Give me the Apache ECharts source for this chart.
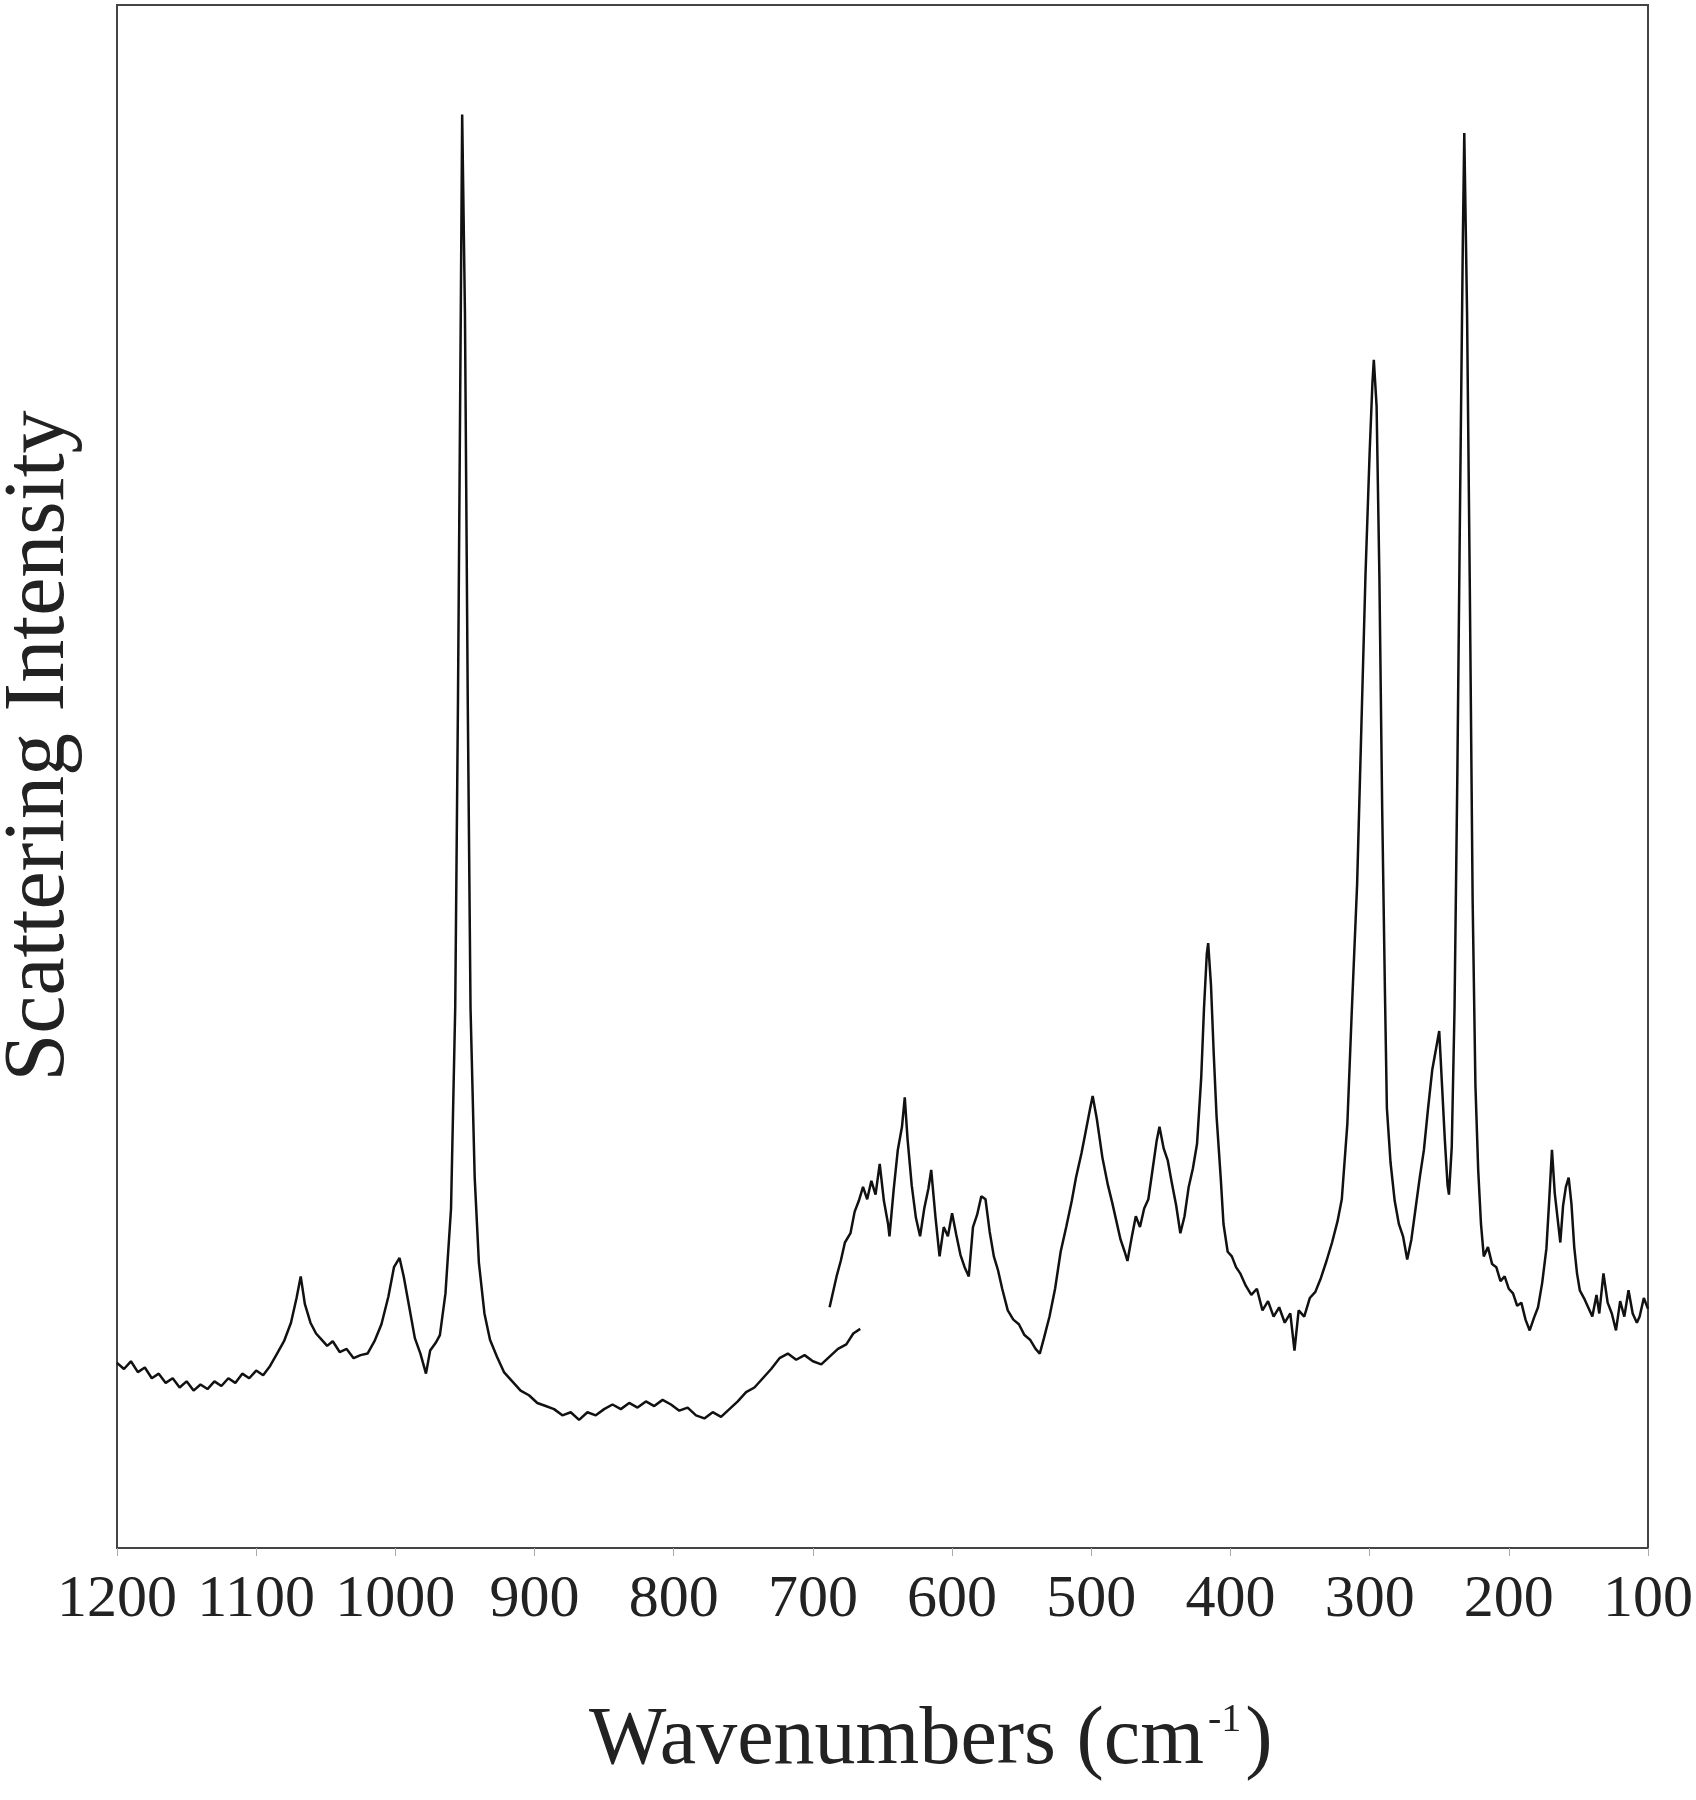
<!DOCTYPE html>
<html>
<head>
<meta charset="utf-8">
<script src="https://cdn.jsdelivr.net/npm/echarts@6/dist/echarts.min.js"></script>
<style>html,body{margin:0;padding:0;background:#fff;}#chart{width:1696px;height:1800px;}</style>
</head>
<body>
<div id="chart"></div>
<script>
// Segment 1 (high wavenumber scan)
const wn1 = [1200,1195,1190,1185,1180,1175,1170,1165,1160,1155,1150,1145,1140,1135,1130,1125,1120,1115,1110,1105,1100,1095,1090,1085,1080,1075,1071,1068,1065,1061,1057,1053,1049,1045,1040,1035,1030,1025,1020,1015,1010,1005,1001,997,994,990,986,982,978,975,971,968,964,960,957,955,953,952,950,948,946,943,940,936,932,927,922,916,910,904,898,892,886,880,874,868,862,856,850,844,838,832,826,820,814,808,802,796,790,784,778,772,766,760,754,748,742,736,730,724,718,712,706,700,694,688,682,676,671,666];
const int1 = [12.0,11.6,12.1,11.4,11.7,11.0,11.3,10.7,11.0,10.4,10.8,10.2,10.6,10.3,10.8,10.5,11.0,10.7,11.3,11.0,11.5,11.2,11.8,12.6,13.4,14.6,16.2,17.6,15.8,14.6,13.9,13.5,13.1,13.4,12.7,12.9,12.3,12.5,12.6,13.4,14.5,16.3,18.2,18.8,17.6,15.6,13.6,12.6,11.3,12.8,13.3,13.8,16.5,22,35,55,80,92.9,80,55,35,24,18.5,15.2,13.5,12.4,11.4,10.8,10.2,9.9,9.4,9.2,9.0,8.6,8.8,8.3,8.8,8.6,9.0,9.3,9.0,9.4,9.1,9.5,9.2,9.6,9.3,8.9,9.1,8.6,8.4,8.8,8.5,9.0,9.5,10.1,10.4,11.0,11.6,12.3,12.6,12.2,12.5,12.1,11.9,12.4,12.9,13.2,13.9,14.2];
// Segment 2 (low wavenumber scan)
const wn2 = [688,685,683,680,677,673,670,667,664,661,658,655,652,649,646,645,642,639,636,634,632,629,626,623,620,617,615,612,609,606,603,600,597,594,591,588,585,582,579,576,573,570,567,564,560,556,552,548,544,540,537,534,530,526,522,518,514,511,507,504,501,499,496,492,488,485,482,479,476,474,471,468,465,462,459,456,453,451,448,445,442,439,436,433,430,427,424,421,419,417,416,414,412,410,407,405,402,399,396,393,389,385,381,377,373,369,365,361,357,354,351,347,343,339,335,331,327,323,320,316,313,309,306,303,300,298,297,295,293,291,289,287.6,285,282,279,276,273,270,267,264,261,258,255,252,250,248,246,244,243,241,239,237,235,233,232,230,228,226,224,222,220,218,215,212,209,206,203,200,197,194,191,188,185,182,179,176,173,171,169,167,165,163,161,159,157,155,153,151,149,146,143,140,137,135,132,129,126,123,120,117,114,111,108,106,103,100];
const int2 = [15.6,16.8,17.6,18.6,19.8,20.4,21.8,22.5,23.4,22.6,23.8,22.9,24.9,22.5,21.0,20.2,23.2,25.8,27.3,29.2,26.5,23.5,21.4,20.2,22.0,23.3,24.5,21.5,18.9,20.8,20.2,21.7,20.3,19.0,18.2,17.6,20.8,21.6,22.8,22.6,20.5,18.9,18.0,16.8,15.4,14.8,14.5,13.8,13.5,12.9,12.6,13.6,15.0,16.8,19.2,20.8,22.5,24.0,25.6,27.0,28.4,29.3,27.8,25.3,23.5,22.4,21.2,20.0,19.2,18.6,20.1,21.5,20.8,22.0,22.6,24.5,26.4,27.3,25.9,25.1,23.6,22.2,20.4,21.5,23.4,24.6,26.2,30.5,35.0,38.5,39.2,36.5,32.0,28.0,24.0,21.0,19.2,18.9,18.2,17.8,17.0,16.4,16.8,15.4,16.0,15.0,15.6,14.6,15.2,12.8,15.4,15.0,16.2,16.6,17.5,18.6,19.8,21.2,22.6,27.5,34.4,43.0,53,63,71,75.5,77.0,74.0,63,48,36,28.5,25.0,22.5,21.0,20.2,18.7,20.0,22.0,24.0,25.8,28.5,31.0,32.5,33.5,30.0,26.5,23.5,22.9,26,35,50,68,85,91.7,80,62,42,30,24.5,21.0,18.9,19.5,18.4,18.2,17.3,17.6,16.8,16.5,15.7,15.9,14.8,14.1,14.9,15.6,17.2,19.4,22.5,25.8,23.0,21.4,19.8,22.2,23.4,24.0,22.3,19.5,17.8,16.7,16.2,15.6,15.0,16.4,15.2,17.8,15.9,15.2,14.1,16.0,15.0,16.7,15.2,14.6,15.0,16.2,15.5];
const xTicks = [1200,1100,1000,900,800,700,600,500,400,300,200,100];

const zip = (a, b) => a.map((v, i) => [v, b[i]]);
const chart = echarts.init(document.getElementById('chart'), null, {renderer: 'canvas'});
const serif = '"Liberation Serif", "DejaVu Serif", serif';
chart.setOption({
  backgroundColor: '#fff',
  animation: false,
  grid: {left: 117, right: 41, top: 5, bottom: 252, show: true, borderColor: '#444', borderWidth: 2, backgroundColor: 'transparent'},
  xAxis: {
    type: 'value', min: 100, max: 1200, interval: 100, inverse: true,
    axisLine: {show: true, lineStyle: {color: '#444', width: 2}},
    axisTick: {show: true, inside: false, length: 8, lineStyle: {color: '#aaa', width: 1}},
    splitLine: {show: false},
    axisLabel: {fontFamily: serif, fontSize: 60, color: '#222', margin: 22,
      formatter: v => xTicks.indexOf(v) >= 0 ? String(v) : ''}
  },
  yAxis: {
    type: 'value', min: 0, max: 100,
    axisLine: {show: false}, axisTick: {show: false}, axisLabel: {show: false}, splitLine: {show: false}
  },
  series: [
    {type: 'line', data: zip(wn1, int1), showSymbol: false, symbol: 'none', lineStyle: {color: '#111', width: 2.5}},
    {type: 'line', data: zip(wn2, int2), showSymbol: false, symbol: 'none', lineStyle: {color: '#111', width: 2.5}}
  ],
  graphic: [
    {type: 'text', left: 589, top: 1700,
      style: {text: '{a|Wavenumbers (cm}{s|-1}{a|)}', fill: '#222',
        rich: {a: {fontFamily: serif, fontSize: 82, fill: '#222'},
               s: {fontFamily: serif, fontSize: 40, fill: '#222', padding: [0, 4, 42, 4]}}}},
    {type: 'text', x: 40, y: 746, rotation: Math.PI / 2,
      style: {text: 'Scattering Intensity', fontFamily: serif, fontSize: 86, fill: '#222', align: 'center', verticalAlign: 'middle'}}
  ]
});
</script>
</body>
</html>
